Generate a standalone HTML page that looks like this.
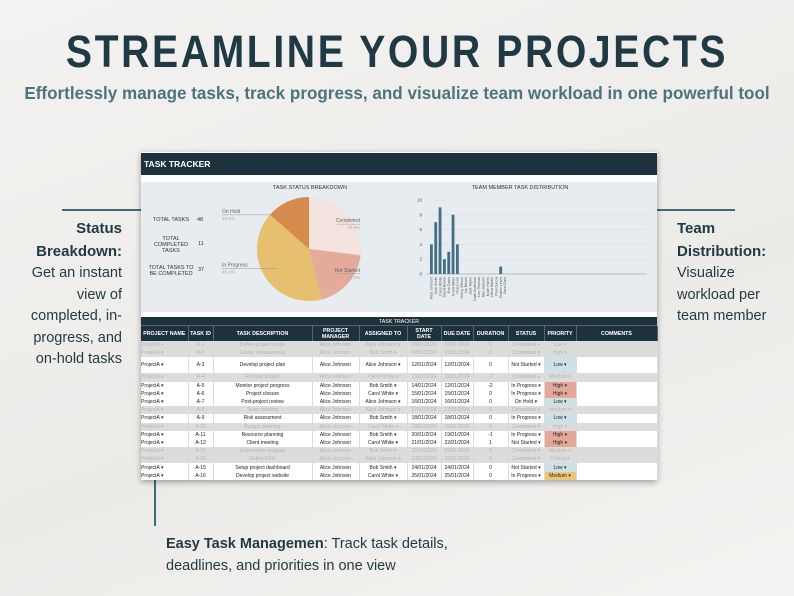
<!DOCTYPE html>
<html><head><meta charset="utf-8"><style>
*{margin:0;padding:0;box-sizing:border-box}
body{width:794px;height:596px;overflow:hidden;background:linear-gradient(160deg,#f3f2f0,#ecebe8 60%,#f4f3f1);font-family:"Liberation Sans",sans-serif;position:relative;color:#1f3a45}
.abs{position:absolute}
h1{position:absolute;left:0;width:794px;top:26px;text-align:center;font-size:45px;font-weight:bold;letter-spacing:3px;color:#1f3a45;transform:scaleX(.87)}
.sub{left:0;width:794px;top:83px;text-align:center;font-size:17.5px;font-weight:bold;color:#4b7480;transform:scaleX(.975)}
.note{font-size:14.5px;line-height:21.5px;color:#1f3a45}
.card{left:141px;top:152px;width:516px;height:328px;background:#fff;box-shadow:0 2px 6px rgba(0,0,0,.35)}
table{border-collapse:collapse;font-size:5px;position:absolute;left:141px;top:326px;width:516px;table-layout:fixed}
td,th{text-align:center;white-space:nowrap;overflow:hidden;border-right:1px solid #d8dcdf}
th{background:#1e323d;color:#fff;height:15px;font-size:5.3px;line-height:6px;border-right:1px solid #55666e}
tr.g td{background:#dcdcdc;color:#b5b5b5}
tr td{height:8.2px;color:#222}
</style></head><body>
<h1>STREAMLINE YOUR PROJECTS</h1>
<div class="abs sub">Effortlessly manage tasks, track progress, and visualize team workload in one powerful tool</div>

<div class="abs" style="left:62px;top:209px;width:91px;height:1.5px;background:#3f6b78"></div>
<div class="abs" style="left:150px;top:206px;width:7px;height:7px;border-radius:50%;background:#3f6b78"></div>
<div class="abs note" style="left:10px;top:218px;width:112px;text-align:right"><b style="font-size:15px">Status<br>Breakdown:</b><br>Get an instant view of completed, in-progress, and on-hold tasks</div>
<div class="abs" style="left:623px;top:209px;width:112px;height:1.5px;background:#3f6b78"></div>
<div class="abs" style="left:620px;top:206px;width:7px;height:7px;border-radius:50%;background:#3f6b78"></div>
<div class="abs note" style="left:677px;top:218px;width:115px"><b style="font-size:15px">Team<br>Distribution:</b><br>Visualize workload per team member</div>
<div class="abs" style="left:154px;top:480px;width:1.5px;height:46px;background:#3f6b78"></div>
<div class="abs note" style="left:166px;top:534px;width:320px"><b>Easy Task Managemen</b>: Track task details, deadlines, and priorities in one view</div>

<div class="abs card"></div>
<div class="abs" style="left:141px;top:153px;width:516px;height:22px;background:#1e323d;color:#fff;font-size:8.5px;font-weight:bold;padding:6px 3px">TASK TRACKER</div>
<div class="abs" style="left:141px;top:182px;width:516px;height:130px;background:#e6ecef"></div>
<div class="abs" style="left:141px;top:180px;width:516px;font-size:5.5px;color:#333">
<div class="abs" style="left:0;top:37px;width:60px;text-align:center">TOTAL TASKS</div><div class="abs" style="left:56px;top:37px">48</div>
<div class="abs" style="left:0;top:56px;width:60px;text-align:center;line-height:6px">TOTAL<br>COMPLETED<br>TASKS</div><div class="abs" style="left:57px;top:61px">11</div>
<div class="abs" style="left:0;top:85px;width:60px;text-align:center;line-height:6px">TOTAL TASKS TO<br>BE COMPLETED</div><div class="abs" style="left:57px;top:87px">37</div>
</div>
<svg class="abs" style="left:0;top:0" width="794" height="596" id="charts"></svg>

<div class="abs" style="left:141px;top:317px;width:516px;height:9px;background:#1e323d;color:#fff;font-size:5.3px;text-align:center;padding-top:1.5px;border-bottom:1px solid #55666e">TASK TRACKER</div>
<table>
<colgroup><col style="width:47px"><col style="width:25px"><col style="width:99px"><col style="width:47px"><col style="width:48px"><col style="width:34px"><col style="width:32px"><col style="width:35px"><col style="width:36px"><col style="width:32px"><col style="width:81px"></colgroup>
<thead><tr><th>PROJECT NAME</th><th>TASK ID</th><th>TASK DESCRIPTION</th><th>PROJECT<br>MANAGER</th><th>ASSIGNED TO</th><th>START<br>DATE</th><th>DUE DATE</th><th>DURATION</th><th>STATUS</th><th>PRIORITY</th><th>COMMENTS</th></tr></thead>
<tbody id="tb"></tbody></table>

<script>
const statusLabels=["Completed","Not Started","In Progress","On Hold"];
const statusShares=[26.9,19.2,40.4,13.5];
const members=["Alice Johnson","Bob Smith","Carol White","David Brown","Eve Davis","Frank Miller","Grace Lee","Henry Wilson","Ivy Moore","Jack Taylor","Kate Anderson","Leo Thomas","Mia Jackson","Noah Harris","Olivia Martin","Paul Garcia","Ruben Lewis","Sara Clark"];
const taskCounts=[4,7,9,2,3,8,4,0,0,0,0,0,0,0,0,0,1,0];
const yTicks=[0,2,4,6,8,10];
const rows=[
["g","A-1","Define project scope","Alice Johnson","03/01/2024","10/01/2024","0","Completed","Low"],
["g","A-2","Gather requirements","Bob Smith","04/01/2024","01/01/2024","0","Completed","High"],
["w","A-3","Develop project plan","Alice Johnson","12/01/2024","12/01/2024","0","Not Started","Low"],
["g","A-4","Execute project","Carol White","13/01/2024","12/01/2024","-1","Completed","Medium"],
["w","A-5","Monitor project progress","Bob Smith","14/01/2024","12/01/2024","-2","In Progress","High"],
["w","A-6","Project closure","Carol White","15/01/2024","15/01/2024","0","In Progress","High"],
["w","A-7","Post-project review","Alice Johnson","16/01/2024","16/01/2024","0","On Hold","Low"],
["g","A-8","Team meeting","Alice Johnson","17/01/2024","17/01/2024","0","Completed","Medium"],
["w","A-9","Risk assessment","Bob Smith","18/01/2024","18/01/2024","0","In Progress","Low"],
["g","A-10","Budget planning","Carol White","19/01/2024","19/01/2024","0","Completed","High"],
["w","A-11","Resource planning","Bob Smith","20/01/2024","19/01/2024","-1","In Progress","High"],
["w","A-12","Client meeting","Carol White","21/01/2024","22/01/2024","1","Not Started","High"],
["g","A-13","Stakeholder analysis","Bob Smith","22/01/2024","22/01/2024","0","Completed","Medium"],
["g","A-14","Define KPIs","Alice Johnson","23/01/2024","23/01/2024","0","Completed","Critical"],
["w","A-15","Setup project dashboard","Bob Smith","24/01/2024","24/01/2024","0","Not Started","Low"],
["w","A-16","Develop project website","Carol White","25/01/2024","25/01/2024","0","In Progress","Medium"]];
const NS="http://www.w3.org/2000/svg",svg=document.getElementById('charts');
function el(t,a,txt){const e=document.createElementNS(NS,t);for(const k in a)e.setAttribute(k,a[k]);if(txt!==undefined)e.textContent=txt;svg.appendChild(e);return e;}
let t=el('text',{x:310,y:189,'font-size':5.5,'text-anchor':'middle',fill:'#333'},'TASK STATUS BREAKDOWN');
t=el('text',{x:520,y:189,'font-size':5.5,'text-anchor':'middle',fill:'#333'},'TEAM MEMBER TASK DISTRIBUTION');
const cx=309,cy=249,R=52,cols=["#f4e4df","#e4ab9a","#e6c06e","#d68b4c"];
const lab=[[360,222,"end"],[360,282,"end"],[222,275,"start"],[222,203,"start"]];
let a0=0;const tot=statusShares.reduce((a,b)=>a+b,0);
statusShares.forEach((v,i)=>{const a1=a0+v/tot*2*Math.PI;
const p=(a)=>[cx+R*Math.sin(a),cy-R*Math.cos(a)];const [x0,y0]=p(a0),[x1,y1]=p(a1);
const s=el('path',{d:`M${cx},${cy}L${x0},${y0}A${R},${R} 0 ${a1-a0>Math.PI?1:0} 1 ${x1},${y1}Z`,fill:cols[i]});

const [l,ly,anc]=lab[i];const am=(a0+a1)/2,[mx,my]=[cx+R*0.72*Math.sin(am),cy-R*0.72*Math.cos(am)];
el('line',{x1:mx,y1:my,x2:l,y2:my,stroke:'#999','stroke-width':0.5});
let tx=el('text',{x:l,y:my-2,'font-size':5,'text-anchor':anc,fill:'#666'},statusLabels[i]);
el('text',{x:l,y:my+5,'font-size':4.5,'text-anchor':anc,fill:'#aaa'},v.toFixed(1)+'%');
a0=a1;});
const x0=427,x1=647,yb=274,yt=200;const ys=v=>yb-(v/10)*(yb-yt);const bx=i=>430+i*4.33;
yTicks.forEach(v=>{el('line',{x1:x0,x2:x1,y1:ys(v),y2:ys(v),stroke:v?'#d3dadd':'#888','stroke-width':0.5});
let tk=el('text',{x:422,y:ys(v)+1.5,'font-size':4.5,'text-anchor':'end',fill:'#555'},v);});
members.forEach((m,i)=>{const b=el('rect',{x:bx(i),y:ys(taskCounts[i]),width:2.8,height:yb-ys(taskCounts[i]),fill:'#456f85'});

const tx=el('text',{x:0,y:0,'font-size':3.6,'text-anchor':'end',fill:'#555',transform:`translate(${bx(i)+2.6},${yb+3}) rotate(-90)`},m);
});
const tb=document.getElementById('tb');const pc={High:'#e4a898',Low:'#cfe0e6',Medium:'#eec776'};
rows.forEach((r,i)=>{const tr=document.createElement('tr');tr.className=r[0];if(i==2)tr.style.height='16px';

const cells=["ProjectA ▾",r[1],r[2],"Alice Johnson",r[3]+" ▾",r[4],r[5],r[6],r[7]+" ▾",r[8]+" ▾",""];
cells.forEach((c,j)=>{const td=document.createElement('td');td.textContent=c;if(j==0)td.style.textAlign='left';
if(j==9&&r[0]=='w')td.style.background=pc[r[8]];tr.appendChild(td);});tb.appendChild(tr);});
</script>
</body></html>
